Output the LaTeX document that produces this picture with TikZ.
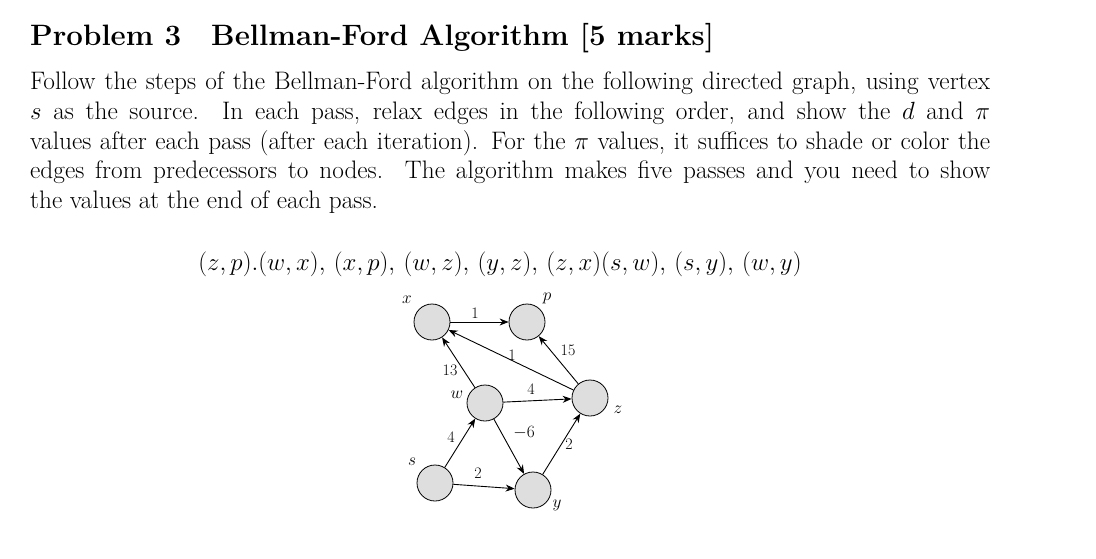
\documentclass[tikz,border=0pt]{standalone}
\usepackage{amsmath}
\usetikzlibrary{arrows.meta}
\begin{document}
\begin{tikzpicture}[x=1pt,y=-1pt,
 vert/.style={circle,draw,line width=0.8pt,fill=black!13,minimum size=36pt,inner sep=0pt},
 lab/.style={font=\fontsize{16}{16}\selectfont},
 edge/.style={-{Stealth[length=9pt,width=7pt]},line width=0.9pt},
 body/.style={font=\fontsize{25.3}{29.6}\selectfont}]
\useasboundingbox (0,0) rectangle (1096,558);
\node[anchor=base west,font=\fontsize{29.5}{34}\selectfont\bfseries,inner sep=0] (h) at (30,45) {Problem 3\hspace{30pt}Bellman-Ford Algorithm [5 marks]};
\node[anchor=north west,body,text width=960pt,align=justify,inner sep=0] (t) at (30,72) {Follow the steps of the Bellman-Ford algorithm on the following directed graph, using vertex\linebreak $s$ as the source.\ \ In each pass, relax edges in the following order, and show the $d$ and $\pi$\linebreak values after each pass (after each iteration). For the $\pi$ values, it suffices to shade or color the\linebreak edges from predecessors to nodes.\ \ The algorithm makes five passes and you need to show\linebreak the values at the end of each pass.\par};
\node[body,inner sep=0] (e) at (500,264) {$(z,p).(w,x),\,(x,p),\,(w,z),\,(y,z),\,(z,x)(s,w),\,(s,y),\,(w,y)$};
\node[vert] (x) at (432,322) {};
\node[vert] (p) at (527,322) {};
\node[vert] (w) at (485,403) {};
\node[vert] (z) at (590,398) {};
\node[vert] (s) at (435,483) {};
\node[vert] (y) at (533,490) {};
\node[lab] (lx) at (407,300) {$x$};
\node[lab] (lp) at (547,298) {$p$};
\node[lab] (lw) at (457,395) {$w$};
\node[lab] (lz) at (618,410) {$z$};
\node[lab] (ls) at (412,462) {$s$};
\node[lab] (ly) at (557,505) {$y$};
\draw[edge] (x) -- (p);
\draw[edge] (z) -- (x);
\draw[edge] (z) -- (p);
\draw[edge] (w) -- (x);
\draw[edge] (w) -- (z);
\draw[edge] (w) -- (y);
\draw[edge] (s) -- (w);
\draw[edge] (s) -- (y);
\draw[edge] (y) -- (z);
\node[lab] (l1) at (475,313) {1};
\node[lab] (l2) at (512,355) {1};
\node[lab] (l3) at (568,350) {15};
\node[lab] (l4) at (450,370) {13};
\node[lab] (l5) at (531,389) {4};
\node[lab] (l6) at (524,433) {$-6$};
\node[lab] (l7) at (451,437) {4};
\node[lab] (l8) at (478,473) {2};
\node[lab] (l9) at (569,444) {2};
\end{tikzpicture}
\end{document}
